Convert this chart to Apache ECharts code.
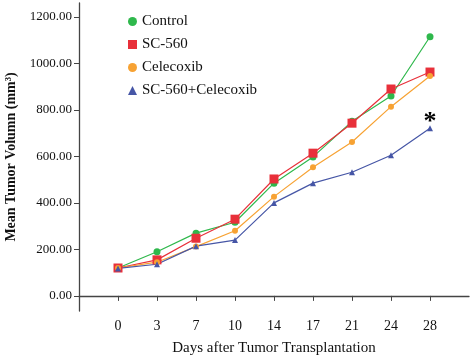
<!DOCTYPE html>
<html>
<head>
<meta charset="utf-8">
<script src="https://cdn.jsdelivr.net/npm/echarts@6/dist/echarts.min.js"></script>
<style>html,body{margin:0;padding:0;background:#fff}#c{width:474px;height:360px}</style>
</head>
<body>
<div id="c"></div>
<script>
const days = ['0', '3', '7', '10', '14', '17', '21', '24', '28'];
const control = [120, 190, 270, 317, 485, 598, 751, 860, 1115];
const sc560 = [120, 155, 248, 330, 503, 614, 743, 890, 963];
const celecoxib = [120, 145, 212, 280, 427, 553, 662, 814, 946];
const combo = [118, 136, 214, 240, 400, 485, 532, 605, 721];
const yTicks = [0, 200, 400, 600, 800, 1000, 1200];
const seriesNames = ['Control', 'SC-560', 'Celecoxib', 'SC-560+Celecoxib'];

const cats = [''].concat(days, ['']);
const font = 'Liberation Serif';
function pairs(vals) { return days.map((d, i) => [d, vals[i]]); }

const chart = echarts.init(document.getElementById('c'));
chart.setOption({
  animation: false,
  backgroundColor: '#fff',
  grid: { left: 79, right: 5, top: 3, bottom: 49, containLabel: false, outerBoundsMode: 'none' },
  legend: {
    orient: 'vertical', left: 123, top: 9, itemGap: 8,
    itemWidth: 9, itemHeight: 9,
    textStyle: { fontFamily: font, fontSize: 15, color: '#111' },
    data: [
      { name: seriesNames[0], icon: 'circle' },
      { name: seriesNames[1], icon: 'rect' },
      { name: seriesNames[2], icon: 'circle' },
      { name: seriesNames[3], icon: 'triangle' }
    ]
  },
  xAxis: {
    type: 'category', data: cats, boundaryGap: false,
    name: 'Days after Tumor Transplantation', nameLocation: 'middle', nameGap: 30,
    nameTextStyle: { fontFamily: font, fontSize: 15, color: '#111' },
    axisLine: { lineStyle: { color: '#444', width: 1.3 } },
    axisTick: { length: 5, lineStyle: { color: '#444' }, interval: (i) => i > 0 && i < cats.length - 1 },
    axisLabel: { fontFamily: font, fontSize: 14, color: '#111', margin: 8, interval: 0 },
    splitLine: { show: false }
  },
  yAxis: {
    type: 'value', min: -65, max: 1260,
    name: 'Mean Tumor Volumn (mm\u00b3)', nameLocation: 'middle', nameGap: 60,
    nameTextStyle: { fontFamily: font, fontSize: 14, fontWeight: 'bold', color: '#111' },
    axisLine: { show: true, lineStyle: { color: '#444', width: 1.3 } },
    axisTick: { show: true, length: 5, lineStyle: { color: '#444' }, customValues: yTicks },
    axisLabel: { fontFamily: font, fontSize: 13, color: '#111', margin: 7, customValues: yTicks,
      formatter: (v) => v.toFixed(2) },
    splitLine: { show: false }
  },
  series: [
    { name: seriesNames[0], type: 'line', data: pairs(control), symbol: 'circle', symbolSize: 7,
      itemStyle: { color: '#2fb84c' }, lineStyle: { width: 1.2, color: '#2fb84c' } },
    { name: seriesNames[1], type: 'line', data: pairs(sc560), symbol: 'rect', symbolSize: 9,
      itemStyle: { color: '#e8303a' }, lineStyle: { width: 1.2, color: '#e8303a' } },
    { name: seriesNames[2], type: 'line', data: pairs(celecoxib), symbol: 'circle', symbolSize: 6,
      itemStyle: { color: '#f7a233' }, lineStyle: { width: 1.2, color: '#f7a233' } },
    { name: seriesNames[3], type: 'line', data: pairs(combo), symbol: 'triangle', symbolSize: 6,
      itemStyle: { color: '#4656a6' }, lineStyle: { width: 1.2, color: '#4656a6' },
      markPoint: { symbol: 'circle', symbolSize: 0,
        data: [{ coord: [days[days.length - 1], combo[combo.length - 1]] }],
        label: { show: true, formatter: '*', fontFamily: font, fontSize: 26, fontWeight: 'bold', color: '#000', offset: [0, -6] } } }
  ]
});
</script>
</body>
</html>
